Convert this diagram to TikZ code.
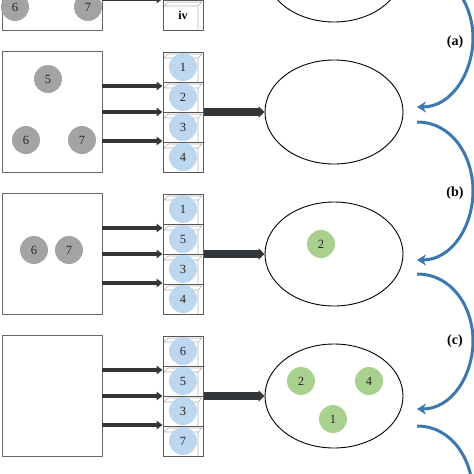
\documentclass[tikz,border=0pt]{standalone}
\usepackage{fontspec}
\setmainfont{Liberation Serif}
\usetikzlibrary{arrows.meta,shapes.geometric}
\definecolor{kgrau}{HTML}{A3A3A3}
\definecolor{kblau}{HTML}{BDD7EE}
\definecolor{kgruen}{HTML}{A9D18E}
\definecolor{pfeil}{HTML}{333638}
\definecolor{bblau}{HTML}{3A78B5}
\begin{document}
\begin{tikzpicture}[x=1pt,y=-1pt,line join=round,
	kasten/.style={draw=black!60,line width=1pt,minimum width=100pt,minimum height=121pt,inner sep=0pt},
	zelle/.style={draw=black!65,line width=1pt,minimum width=40pt,minimum height=30pt,inner sep=0pt,
		path picture={\draw[black!30,line width=0.6pt]
			([xshift=1pt,yshift=-6pt]path picture bounding box.north west) -- ++(4,-4) -- ++(34,0)
			([xshift=1pt,yshift=-6pt]path picture bounding box.north west) -- ++(34,0) -- ++(4,-4)
			([xshift=-5pt,yshift=-6pt]path picture bounding box.north east) -- ++(0,24);}},
	kugel/.style={circle,minimum size=28pt,inner sep=0pt,text=black!85,font=\fontsize{12.5}{14}\selectfont},
	grau/.style={kugel,fill=kgrau},
	blau/.style={kugel,fill=kblau},
	gruen/.style={kugel,fill=kgruen},
	topf/.style={ellipse,draw,line width=0.9pt,minimum width=138pt,minimum height=104pt},
	dick/.style={draw=pfeil,line width=4pt,-{Triangle[length=6pt,width=8.5pt]}},
	breit/.style={draw=pfeil,line width=8.5pt,-{Triangle[length=6pt,width=11pt]}},
	bogen/.style={draw=bblau,line width=3pt,-{Stealth[length=9pt,width=11pt]}},
	marke/.style={font=\bfseries\fontsize{14}{16}\selectfont}]
	\useasboundingbox (0,0) rectangle (474,474);
	\clip (0,0) rectangle (474,474);
	% oberste Reihe (abgeschnitten)
	\node[kasten] (boxo) at (52,-30) {};
	\node[grau] (go6) at (15,7) {6};
	\node[grau] (go7) at (88,7) {7};
	\node[zelle] (zo4) at (183,15) {};
	\node[font=\bfseries\fontsize{12}{14}\selectfont] (iv) at (zo4) {iv};
	\coordinate (po3) at (102,-1);
	\draw[dick] (po3) -- (zo4.west |- po3);
	\node[topf] (eo) at (334,-30) {};
	% Reihen a, b, c
	\foreach \r/\y/\s in {a/51/{1,2,3,4}, b/193/{1,5,3,4}, c/335/{6,5,3,7}} {
		\node[kasten] (box\r) at (52,\y+60.5) {};
		\foreach \k [count=\i] in \s {
			\node[zelle] (z\r\i) at (183,\y+30*\i-14) {};
			\node[blau] (k\r\i) at (z\r\i) {\k};
		}
		\coordinate (p\r1) at (102,\y+35);
		\coordinate (p\r2) at (102,\y+61);
		\coordinate (p\r3) at (102,\y+90);
		\draw[dick] (p\r1) -- (z\r2.west |- p\r1);
		\draw[dick] (p\r2) -- (z\r3.west |- p\r2);
		\draw[dick] (p\r3) -- (z\r4.west |- p\r3);
		\node[topf] (e\r) at (334,\y+61) {};
		\draw[breit] (z\r3.east |- e\r) -- (e\r.west);
	}
	% Kugeln
	\node[grau] (ga5) at (48,79) {5};
	\node[grau] (ga6) at (26,140) {6};
	\node[grau] (ga7) at (82,140) {7};
	\node[grau] (gb6) at (34,250) {6};
	\node[grau] (gb7) at (69,250) {7};
	\node[gruen] (nb2) at (321,244) {2};
	\node[gruen] (nc2) at (301,381) {2};
	\node[gruen] (nc4) at (369,381) {4};
	\node[gruen] (nc1) at (333,419) {1};
	% Boegen
	\coordinate (s0) at (417,-30);
	\coordinate (t0) at (417,107);
	\coordinate (s1) at (417,122);
	\coordinate (m1) at (473,191);
	\coordinate (t1) at (417,260);
	\coordinate (s2) at (417,274);
	\coordinate (m2) at (473,341);
	\coordinate (t2) at (417,409);
	\coordinate (s3) at (417,426);
	\draw[bogen] (s0) .. controls (452,-30) and (473,5) .. (473,38) .. controls (473,72) and (452,107) .. (t0);
	\draw[bogen] (s1) .. controls (452,122) and (473,156) .. (m1) .. controls (473,226) and (452,260) .. (t1);
	\draw[bogen] (s2) .. controls (452,274) and (473,307) .. (m2) .. controls (473,375) and (452,409) .. (t2);
	\draw[draw=bblau,line width=3pt] (s3) .. controls (452,426) and (473,460) .. (473,495);
	\node[marke] (la) at (455,42) {(a)};
	\node[marke] (lb) at (455,193) {(b)};
	\node[marke] (lc) at (455,341) {(c)};
\end{tikzpicture}
\end{document}
